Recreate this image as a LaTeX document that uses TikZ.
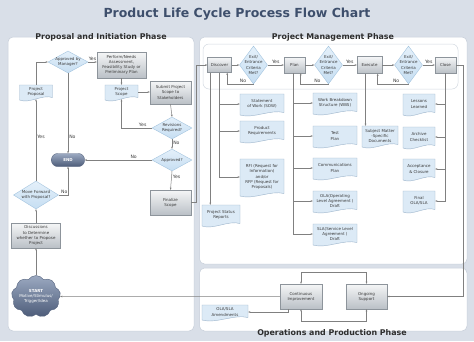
\documentclass[tikz,border=0pt]{standalone}
\usepackage{fontspec}
\setmainfont{DejaVu Sans}
\usetikzlibrary{arrows.meta,shapes.geometric,shapes.symbols}
\definecolor{pagebg}{HTML}{D9DFE8}
\definecolor{panelline}{HTML}{C6CED9}
\definecolor{bandline}{HTML}{D3D9E1}
\definecolor{titleblue}{HTML}{3E4F6C}
\definecolor{headgray}{HTML}{2E2E2E}
\definecolor{textgray}{HTML}{3A3A3A}
\definecolor{linegray}{HTML}{808080}
\definecolor{proctop}{HTML}{F5F6F7}
\definecolor{procbot}{HTML}{BAC0C6}
\definecolor{procline}{HTML}{8D949B}
\definecolor{docfill}{HTML}{DCEAF6}
\definecolor{docline}{HTML}{9CB4CB}
\definecolor{diamtop}{HTML}{E4F0FA}
\definecolor{diambot}{HTML}{C6DEF2}
\definecolor{diamline}{HTML}{A3C4DF}
\definecolor{slatetop}{HTML}{9BA9C1}
\definecolor{slatebot}{HTML}{4D5C79}
\definecolor{slateline}{HTML}{56647F}
\newcommand{\boxfont}{\fontsize{4}{5.2}\selectfont}
\newcommand{\tagfont}{\fontsize{4.6}{5.5}\selectfont}
\newcommand{\phasefont}{\fontsize{7.9}{9}\selectfont\bfseries}
\newcommand{\headfont}{\fontsize{12.5}{14}\selectfont\bfseries}
% document shape: name, x, y, width, height, text
\newcommand{\docnode}[6]{%
  \draw[docshape] ({#2-#4/2},{#3-#5/2}) -- ({#2+#4/2},{#3-#5/2}) -- ({#2+#4/2},{#3+#5/2-1.5}) .. controls ({#2+#4/5},{#3+#5/2-5}) and ({#2-#4/5},{#3+#5/2+5}) .. ({#2-#4/2},{#3+#5/2+1}) -- cycle;
  \node[boxtext,minimum width=#4,minimum height=#5] (#1) at (#2,#3) {#6};}

\begin{document}
\begin{tikzpicture}[x=1pt,y=-1pt,
  line/.style={draw=linegray,line width=.5pt},
  arrow/.style={line,-{Stealth[length=2.2pt,width=1.8pt]}},
  twoway/.style={line,{Stealth[length=2.2pt,width=1.8pt]}-{Stealth[length=2.2pt,width=1.8pt]}},
  boxtext/.style={font=\boxfont,align=center,inner sep=0pt,text=textgray},
  docshape/.style={draw=docline,fill=docfill,line width=.4pt},
  proc/.style={boxtext,draw=procline,line width=.4pt,top color=proctop,bottom color=procbot},
  decision/.style={shape=diamond,draw=diamline,line width=.4pt,top color=diamtop,bottom color=diambot,inner sep=0pt},
  terminal/.style={rounded corners=6pt,draw=slateline,line width=.4pt,top color=slatetop,bottom color=slatebot,text=white,font=\boxfont\bfseries,inner sep=0pt},
  lbl/.style={font=\tagfont,text=textgray,inner sep=1pt},
  phase/.style={font=\phasefont,text=headgray},
  panel/.style={draw=panelline,fill=white,rounded corners=5pt,line width=.5pt}]
\fill[pagebg] (0,0) rectangle (474,341);
\useasboundingbox (0,0) rectangle (474,341);
% phase panels
\draw[panel] (8,37) rectangle (194,331);
\draw[panel] (199.5,37) rectangle (467,264);
\draw[panel] (199.5,268) rectangle (467,331);
\draw[draw=bandline,rounded corners=6pt,line width=.5pt] (203,44) rectangle (458,89);
\node[font=\headfont,text=titleblue] (title) at (237,14) {Product Life Cycle Process Flow Chart};
\node[phase] (hprop) at (101,37) {Proposal and Initiation Phase};
\node[phase] (hpm) at (333,37) {Project Management Phase};
\node[phase] (hops) at (332,333.5) {Operations and Production Phase};
% proposal and initiation
\node[decision,minimum width=40,minimum height=22,label={[boxtext]center:Approved by\\Manager?}] (appr) at (68,62) {};
\node[proc,minimum width=49,minimum height=26] (assess) at (121.5,65) {Perform/Needs\\Assessment,\\Feasibility Study or\\Preliminary Plan};
\docnode{proposal}{36}{92}{33}{14}{Project\\Proposal}
\docnode{scope}{121.5}{92}{33}{14}{Project\\Scope}
\node[proc,minimum width=41,minimum height=23] (submit) at (170.5,92.5) {Submit Project\\Scope to\\Stakeholders};
\node[decision,minimum width=40,minimum height=22,label={[boxtext]center:Revisions\\Required?}] (revise) at (172,128) {};
\node[decision,minimum width=40,minimum height=22,label={[boxtext]center:Approved?}] (approved) at (172,160) {};
\node[terminal,minimum width=33,minimum height=13] (finish) at (68,160) {END};
\node[proc,minimum width=41,minimum height=25] (finalize) at (170.5,202.5) {Finalize\\Scope};
\node[decision,minimum width=45,minimum height=28,label={[boxtext]center:Move Forward\\with Proposal?}] (forward) at (36,195) {};
\node[proc,minimum width=49,minimum height=25] (discuss) at (36,235.5) {Discussions\\to Determine\\whether to Propose\\Project};
\node[cloud,cloud puffs=9,cloud puff arc=115,draw=slateline,line width=.4pt,top color=slatetop,bottom color=slatebot,minimum width=49,minimum height=42,inner sep=0pt,
  label={[boxtext,text=white]center:{\bfseries START}\\Motive/Stimulus/\\Trigger/Idea}] (start) at (36,296.5) {};
\draw[arrow] (appr.east) -- node[lbl,above] (yes1) {Yes} (appr.east -| assess.west);
\draw[arrow] (assess.south) -- (scope.north);
\draw[arrow] (scope.east) -- (scope.east -| submit.west);
\draw[arrow] (submit.south) -- (revise.north);
\draw[arrow] (revise.west) -| node[lbl,above,pos=.15] (yes2) {Yes} (scope.south);
\draw[arrow] (revise.south) -- node[lbl,right,pos=.4] (no1) {No} (approved.north);
\draw[arrow] (approved.west) -- node[lbl,above,pos=.27] (no2) {No} (finish.east);
\draw[arrow] (appr.south) -- node[lbl,right,pos=.8] (no3) {No} (finish.north);
\draw[arrow] (approved.south) -- node[lbl,right,pos=.3] (yes3) {Yes} (finalize.north);
\draw[arrow] (start.north) -- (discuss.south);
\draw[arrow] (discuss.north) -- (forward.south);
\draw[arrow] (forward.east) -| node[lbl,above,pos=.3] (no4) {No} (finish.south);
\draw[arrow] (forward.north) -- node[lbl,right,pos=.54] (yes4) {Yes} (proposal.south);
\draw[arrow] (proposal.north) |- (appr.west);
% project management
\node[proc,minimum width=24,minimum height=15] (discover) at (219.5,65) {Discover};
\node[proc,minimum width=21,minimum height=16] (plan) at (294.5,65) {Plan};
\node[proc,minimum width=25,minimum height=17] (execute) at (369.5,65) {Execute};
\node[proc,minimum width=21,minimum height=16] (close) at (445.5,65) {Close};
\foreach \g/\x in {gateA/253.5,gateB/328.5,gateC/408.5}{
  \node[decision,minimum width=28,minimum height=38,label={[boxtext]center:Exit/\\Entrance\\Criteria\\Met?}] (\g) at (\x,65) {};
}
\foreach \a/\g/\b in {discover/gateA/plan,plan/gateB/execute,execute/gateC/close}{
  \draw[arrow] (\a.east) -- (\g.west);
  \draw[arrow] (\g.east) -- node[lbl,above] {Yes} (\b.west);
  \draw[arrow] (\g.south) -| node[lbl,above,pos=.2] {No} ([xshift=-4.5]\a.south east);
}
\foreach \n/\y/\h/\t in {sow/104/20/{Statement\\of Work (SOW)},req/131/20/{Product\\Requirements},rfi/177/36/{RFI (Request for\\Information)\\and/or\\RFP (Request for\\Proposals)}}{
  \docnode{\n}{262}{\y}{44}{\h}{\t}
}
\docnode{status}{221}{215}{38}{20}{Project Status\\Reports}
\foreach \n/\y/\t in {wbs/103/{Work Breakdown\\Structure (WBS)},test/136/{Test\\Plan},comm/168/{Communications\\Plan},ola/201/{OLA(Operating\\Level Agreement )\\Draft},sla/234/{SLA(Service Level\\Agreement )\\Draft}}{
  \docnode{\n}{335}{\y}{44}{20}{\t}
}
\docnode{subject}{380}{136}{36}{20}{Subject Matter\\-Specific\\Documents}
\foreach \n/\y/\t in {lessons/104/{Lessons\\Learned},archive/137/{Archive\\Checklist},accept/169/{Acceptance\\\& Closure},final/201/{Final\\OLA/SLA}}{
  \docnode{\n}{419}{\y}{32}{20}{\t}
}
\foreach \d in {sow,req,rfi}{\draw[arrow] (discover.south) |- (\d.west);}
\draw[arrow] ([xshift=3]discover.south west) -- ([xshift=3]discover.south west |- status.north);
\foreach \d in {wbs,test,comm,ola,sla}{\draw[arrow] ([xshift=-1.5]plan.south) |- (\d.west);}
\draw[arrow] ([xshift=-4]execute.south) -- ([xshift=-4]execute.south |- subject.north);
\foreach \d in {lessons,archive,accept,final}{\draw[arrow] (close.south) |- (\d.east);}
\draw[arrow] (finalize.east) -- ++(5.5,0) |- (discover.west);
% operations and production
\node[proc,minimum width=42,minimum height=25] (improve) at (301,296.5) {Continuous\\Improvement};
\node[proc,minimum width=41,minimum height=25] (support) at (366.5,296.5) {Ongoing\\Support};
\docnode{amend}{225}{312}{46}{14}{OLA/SLA\\Amendments}
\draw[twoway] (improve.north) -- ++(0,-12) -| (support.north);
\draw[twoway] (improve.south) -- ++(0,12) -| (support.south);
\draw[arrow] ([xshift=-13]improve.south) |- (amend.east);
\draw[arrow] (improve.west) -- (start.east);
\draw[arrow] (close.east) -- ++(7.5,0) |- (support.east);
\end{tikzpicture}
\end{document}
